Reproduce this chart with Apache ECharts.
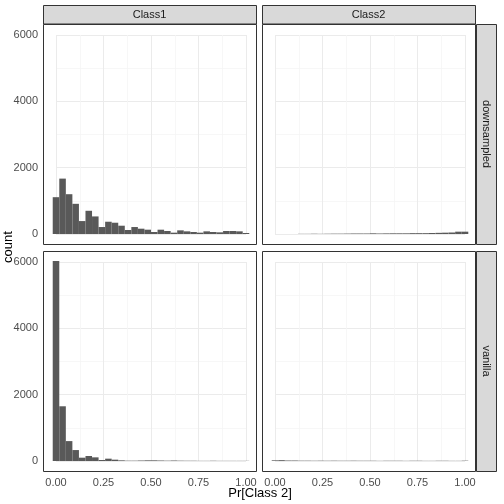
<!DOCTYPE html>
<html>
<head>
<meta charset="UTF-8">
<script src="https://cdn.jsdelivr.net/npm/echarts@6/dist/echarts.min.js"></script>
<style>
    html, body { margin: 0; padding: 0; background: #fff; }
    #chart { width: 504px; height: 504px; }
</style>
</head>
<body>
<div id="chart"></div>
<script>
    // 30 bins of width 1/29, centred on i/29
    var nBins = 30;
    var colClasses = ['Class1', 'Class2'];
    var rowModels = ['downsampled', 'vanilla'];
    var xTicks = [0, 0.25, 0.5, 0.75, 1];
    var yTicks = [0, 2000, 4000, 6000];

    var class1Down = [1110, 1670, 1200, 910, 390, 700, 530, 210, 370, 340, 250, 120, 210, 160, 130, 60, 130, 90, 40, 110, 80, 60, 40, 80, 60, 50, 90, 90, 80, 30];
    var class2Down = [0, 0, 0, 0, 5, 5, 8, 5, 8, 10, 10, 12, 15, 15, 15, 20, 15, 18, 20, 20, 20, 25, 25, 25, 30, 35, 40, 45, 70, 70];
    var class1Van = [6030, 1650, 600, 330, 100, 150, 110, 30, 70, 40, 20, 10, 10, 15, 20, 20, 15, 10, 15, 10, 8, 8, 5, 5, 8, 5, 5, 5, 5, 5];
    var class2Van = [20, 25, 15, 15, 10, 10, 8, 10, 8, 10, 8, 8, 10, 8, 8, 8, 5, 8, 8, 8, 5, 8, 8, 5, 5, 8, 8, 5, 5, 10];

    var panels = [
        { values: class1Down, left: 56, top: 35, row: 0, col: 0 },
        { values: class2Down, left: 275, top: 35, row: 0, col: 1 },
        { values: class1Van, left: 56, top: 262, row: 1, col: 0 },
        { values: class2Van, left: 275, top: 262, row: 1, col: 1 }
    ];

    function toData(vals) {
        return vals.map(function (v, i) { return [i / (nBins - 1), v]; });
    }

    var grids = [], xAxes = [], yAxes = [], series = [];
    panels.forEach(function (p, k) {
        grids.push({ left: p.left, top: p.top, width: 190, height: 199 });
        xAxes.push({
            type: 'value', gridIndex: k, min: 0, max: 1, interval: 0.25, offset: 10,
            axisLine: { show: false },
            axisTick: { show: false },
            axisLabel: {
                show: p.row === 1, color: '#4d4d4d', fontSize: 11, margin: 6,
                formatter: function (v) { return v.toFixed(2); }
            },
            splitLine: { lineStyle: { color: '#ebebeb', width: 1 } },
            minorTick: { show: false, splitNumber: 2 },
            minorSplitLine: { show: true, lineStyle: { color: '#f5f5f5', width: 0.8 } }
        });
        yAxes.push({
            type: 'value', gridIndex: k, min: 0, max: 6000, interval: 2000, offset: 13,
            axisLine: { show: false },
            axisTick: { show: false },
            axisLabel: {
                show: p.col === 0, color: '#4d4d4d', fontSize: 11, margin: 5,
                formatter: function (v) { return String(v); }
            },
            splitLine: { lineStyle: { color: '#ebebeb', width: 1 } },
            minorTick: { show: false, splitNumber: 2 },
            minorSplitLine: { show: true, lineStyle: { color: '#f5f5f5', width: 0.8 } }
        });
        series.push({
            type: 'bar', xAxisIndex: k, yAxisIndex: k, data: toData(p.values),
            barWidth: 190 / (nBins - 1), clip: false, silent: true,
            itemStyle: { color: '#595959' }
        });
    });

    var graphics = [];
    // panel borders and strips
    [[43, 24], [262, 24], [43, 251], [262, 251]].forEach(function (o) {
        graphics.push({ type: 'rect', shape: { x: o[0] + 0.5, y: o[1] + 0.5, width: 213, height: 220 },
            style: { fill: null, stroke: '#333', lineWidth: 1 }, z: 10 });
    });
    [43, 262].forEach(function (x, i) {
        graphics.push({ type: 'rect', shape: { x: x + 0.5, y: 5.5, width: 213, height: 18.5 },
            style: { fill: '#d9d9d9', stroke: '#333', lineWidth: 1 }, z: 10 });
        graphics.push({ type: 'text', x: x + 106.5, y: 15, z: 11,
            style: { text: colClasses[i], fill: '#1a1a1a', font: '11px "Liberation Sans", Arial', align: 'center', verticalAlign: 'middle' } });
    });
    [24, 251].forEach(function (y, i) {
        graphics.push({ type: 'rect', shape: { x: 476.5, y: y + 0.5, width: 20, height: 220 },
            style: { fill: '#d9d9d9', stroke: '#333', lineWidth: 1 }, z: 10 });
        graphics.push({ type: 'text', x: 486.5, y: y + 110, rotation: -Math.PI / 2, z: 11,
            style: { text: rowModels[i], fill: '#1a1a1a', font: '11px "Liberation Sans", Arial', align: 'center', verticalAlign: 'middle' } });
    });
    graphics.push({ type: 'text', x: 260, y: 493, z: 11,
        style: { text: 'Pr[Class 2]', fill: '#000', font: '13px "Liberation Sans", Arial', align: 'center', verticalAlign: 'middle' } });
    graphics.push({ type: 'text', x: 8, y: 247, rotation: Math.PI / 2, z: 11,
        style: { text: 'count', fill: '#000', font: '13px "Liberation Sans", Arial', align: 'center', verticalAlign: 'middle' } });

    var myChart = echarts.init(document.getElementById('chart'));
    myChart.setOption({
        animation: false,
        textStyle: { fontFamily: '"Liberation Sans", Arial' },
        grid: grids,
        xAxis: xAxes,
        yAxis: yAxes,
        series: series,
        graphic: graphics
    });
</script>
</body>
</html>
